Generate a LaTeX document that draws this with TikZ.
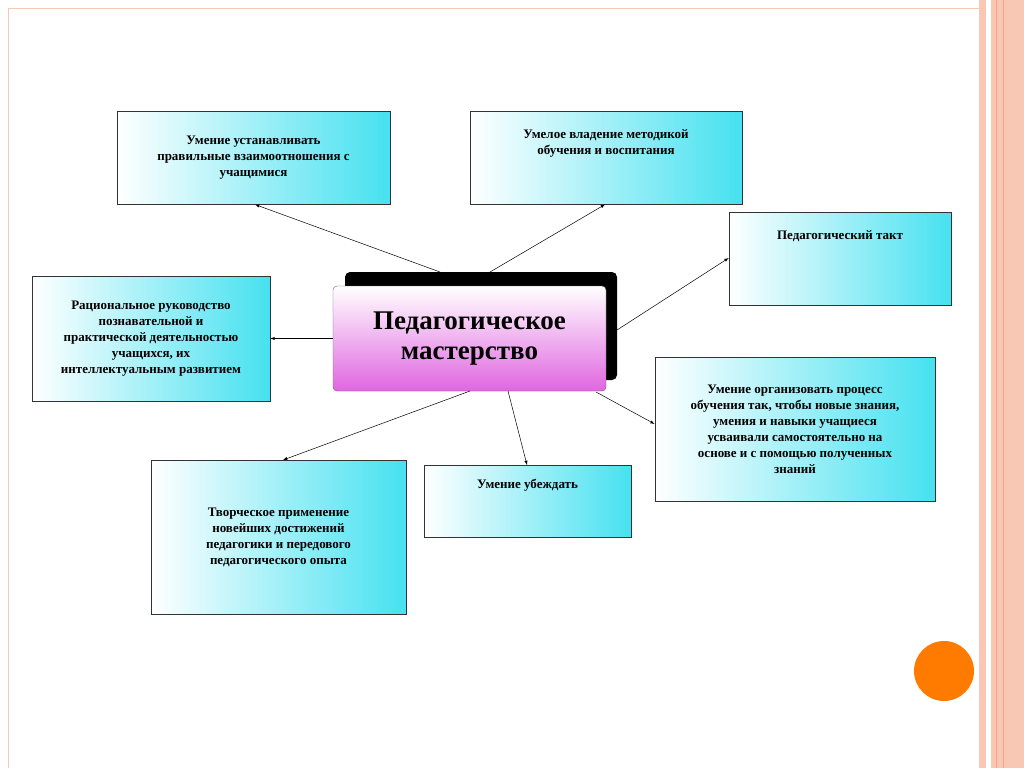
\documentclass[tikz,border=0pt]{standalone}
\usepackage{fontspec}
\setmainfont{Liberation Serif}
\begin{document}
\begin{tikzpicture}[x=1pt,y=-1pt,
 box/.style={draw=black!80,line width=0.6pt,left color=white,right color=cyan!60!blue!20!white!0!cyan!70,shading angle=90,font=\bfseries\fontsize{13}{16}\selectfont,align=center,anchor=north west,inner sep=0pt},
 arr/.style={-latex,line width=0.5pt}]
\definecolor{salm}{RGB}{249,200,180}
\definecolor{cy}{RGB}{70,225,240}
\tikzset{box/.style={draw=black!80,line width=0.6pt,left color=white,right color=cy,font=\bfseries\fontsize{13}{16}\selectfont,align=center,inner sep=0pt}}
\useasboundingbox (0,0) rectangle (1024,768);
\fill[white] (0,0) rectangle (1024,768);
\draw[salm,line width=0.8pt] (8,768) -- (8,8) -- (980,8);
\fill[salm] (979,0) rectangle (986,768);
\fill[salm] (991,0) rectangle (1024,768);
\draw[salm!80!red,line width=0.5pt] (996,0)--(996,768) (1003,0)--(1003,768);
\fill[orange!85!red!90!yellow] (944,671) ellipse (30 and 30);
% boxes
\node[box,minimum width=273,minimum height=93] (A) at (253.5,157.5) {Умение устанавливать\\правильные взаимоотношения с\\учащимися};
\node[box,minimum width=272,minimum height=93] (B) at (606,157.5) {Умелое владение методикой\\обучения и воспитания\\[14pt]};
\node[box,minimum width=222,minimum height=93] (C) at (840,258.5) {Педагогический такт\\[30pt]};
\node[box,minimum width=238,minimum height=125] (D) at (151,338.5) {Рациональное руководство\\познавательной и\\практической деятельностью\\учащихся, их\\интеллектуальным развитием};
\node[box,minimum width=280,minimum height=144] (E) at (795,429) {Умение организовать процесс\\обучения так, чтобы новые знания,\\умения и навыки учащиеся\\усваивали самостоятельно на\\основе и с помощью полученных\\знаний};
\node[box,minimum width=255,minimum height=154] (F) at (278.5,537) {Творческое применение\\новейших достижений\\педагогики и передового\\педагогического опыта};
\node[box,minimum width=207,minimum height=72] (G) at (527.5,501) {Умение убеждать\\[18pt]};
% center
\fill[black,rounded corners=5] (345,272) rectangle (617,380);
\node[draw=black!60,rounded corners=4,top color=white,bottom color=violet!40!magenta!60,minimum width=273,minimum height=105,font=\bfseries\fontsize{27}{30}\selectfont,align=center] (M) at (469.5,338.5) {Педагогическое\\мастерство};
\coordinate (ma) at (440,272); \coordinate (mb) at (490,272);
\coordinate (mc) at (617,330); \coordinate (me) at (596,392);
\coordinate (mf) at (470,391); \coordinate (mg) at (508,391);
\draw[arr] (ma) -- (255,204.5) coordinate (a1);
\draw[arr] (mb) -- (605,204.5);
\draw[arr] (mc) -- (C.west|-0,258) ;
\draw[arr] (M.west) -- (D.east);
\draw[arr] (me) -- (E.west|-0,424);
\draw[arr] (mf) -- (283,460);
\draw[arr] (mg) -- (527,465);
\end{tikzpicture}
\end{document}
